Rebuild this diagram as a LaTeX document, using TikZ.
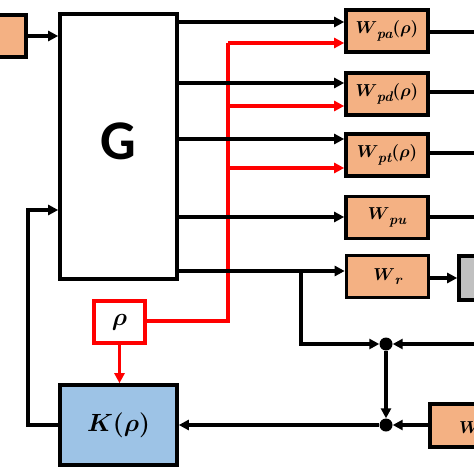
\documentclass[tikz,border=0pt]{standalone}
\usepackage{fontspec}
\usepackage{amsmath,bm}
\newfontfamily\gfont{Carlito}
\usetikzlibrary{arrows.meta}
\newcommand{\Wl}[1]{$\bm{W}$\kern-0.5pt\raisebox{-4.5pt}{\fontsize{14}{15}\selectfont\bfseries\itshape #1}}
\definecolor{wfill}{HTML}{F4B183}
\definecolor{kfill}{HTML}{9DC3E6}
\definecolor{gfill}{HTML}{C0C0C0}
\definecolor{rline}{HTML}{FF0000}
\tikzset{
  blk/.style={draw=black, line width=3.6pt, inner sep=0pt},
  wbox/.style={blk, fill=wfill, minimum width=82pt, minimum height=42pt, font=\fontsize{18}{20}\selectfont},
  conn/.style={line width=3.2pt, -{Triangle[length=10pt,width=10pt]}},
  plain/.style={line width=3.2pt},
  rconn/.style={line width=3.2pt, draw=rline, -{Triangle[length=10pt,width=10pt]}},
  rplain/.style={line width=3.2pt, draw=rline},
  dotn/.style={circle, fill=black, minimum size=13pt, inner sep=0pt}
}
\begin{document}
\begin{tikzpicture}[x=1pt,y=-1pt]
\clip (0,0) rectangle (474,474);
\fill[white] (0,0) rectangle (474,474);
% blocks
\node[blk, fill=wfill, minimum width=38pt, minimum height=42pt] (in) at (7,36) {};
\node[blk, fill=white, minimum width=117pt, minimum height=265pt] (G) at (118.5,146.5) {};
\node[font=\gfont\bfseries\fontsize{56}{60}\selectfont] (Gl) at (118,141) {G};
\node[wbox] (wpa) at (387,31) {\Wl{pa}$\bm{(\rho)}$};
\node[wbox] (wpd) at (387,94) {\Wl{pd}$\bm{(\rho)}$};
\node[wbox] (wpt) at (387,155) {\Wl{pt}$\bm{(\rho)}$};
\node[wbox] (wpu) at (387,217.5) {\Wl{pu}};
\node[wbox] (wr) at (387.5,276.5) {\Wl{r}};
\node[blk, fill=gfill, minimum width=40pt, minimum height=44pt] (gr) at (479,278) {};
\node[blk, fill=wfill, minimum width=80pt, minimum height=43pt] (wn) at (470,425.5) {};
\node[anchor=west, inner sep=0pt, font=\fontsize{18}{20}\selectfont] (wnl) at (459,428) {$\bm{W}$};
\node[draw=rline, line width=3.4pt, fill=white, minimum width=51pt, minimum height=42pt, inner sep=0pt, font=\fontsize{26}{28}\selectfont] (rho) at (119.5,322) {$\bm{\rho}$};
\node[blk, fill=kfill, minimum width=117pt, minimum height=80pt, font=\fontsize{26}{28}\selectfont] (K) at (118.5,425) {$\bm{K(\rho)}$};
\node[dotn] (d1) at (386,344) {};
\node[dotn] (d2) at (386,425) {};
% coordinates
\coordinate (rc) at (228,321);
\coordinate (rt) at (228,43);
\coordinate (r2) at (228,106);
\coordinate (r3) at (228,168);
\coordinate (br) at (301,271);
\coordinate (bb) at (301,344);
\coordinate (fl) at (28,425);
\coordinate (fu) at (28,210);
\coordinate (e1) at (476,32);
\coordinate (e2) at (476,92);
\coordinate (e3) at (476,153);
\coordinate (e4) at (476,217);
\coordinate (e5) at (476,344);
% red connectors
\draw[rplain] (rho.east |- rc) -- (rc) -- (rt);
\draw[rconn] (rt) -- (rt -| wpa.west);
\draw[rconn] (r2) -- (r2 -| wpd.west);
\draw[rconn] (r3) -- (r3 -| wpt.west);
\draw[rconn] (rho.south) -- (rho.south |- K.north);
% black connectors
\draw[conn] (in.east |- 0,36) -- (G.west |- 0,36);
\draw[conn] (G.east |- 0,22) -- (wpa.west |- 0,22);
\draw[conn] (G.east |- 0,83) -- (wpd.west |- 0,83);
\draw[conn] (G.east |- 0,139) -- (wpt.west |- 0,139);
\draw[conn] (G.east |- 0,217) -- (wpu.west |- 0,217);
\draw[conn] (G.east |- br) -- (wr.west |- br);
\draw[plain] (wpa.east |- e1) -- (e1);
\draw[plain] (wpd.east |- e2) -- (e2);
\draw[plain] (wpt.east |- e3) -- (e3);
\draw[plain] (wpu.east |- e4) -- (e4);
\draw[conn] (wr.east |- 0,278) -- (gr.west |- 0,278);
\draw[conn] (br) -- (bb) -- (d1);
\draw[conn] (e5) -- (d1);
\draw[conn] (d1) -- (d2);
\draw[conn] (wn.west |- d2) -- (d2);
\draw[conn] (d2) -- (K.east |- d2);
\draw[conn] (K.west |- fl) -- (fl) -- (fu) -- (G.west |- fu);
\end{tikzpicture}
\end{document}
